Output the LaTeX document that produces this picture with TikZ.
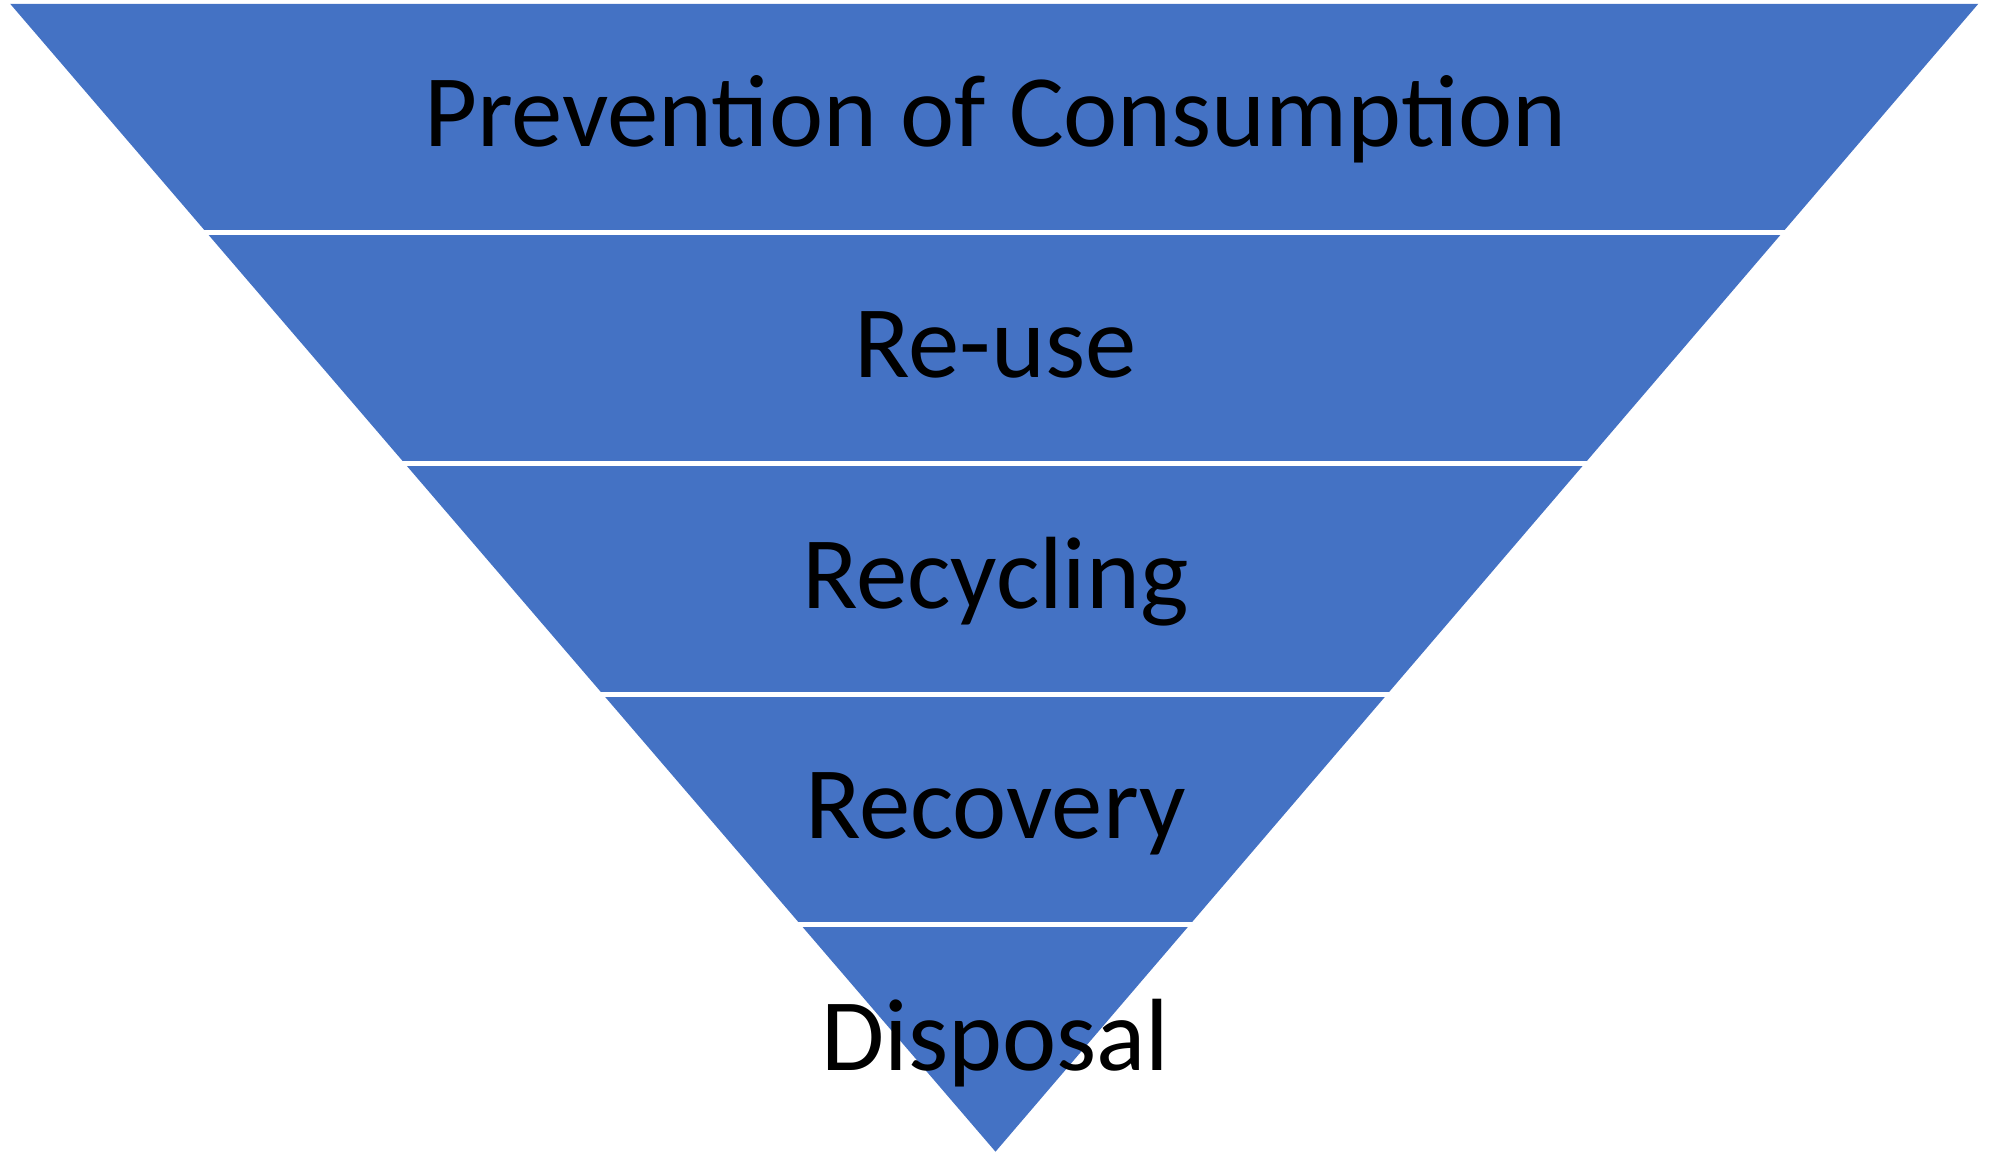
\documentclass[tikz,border=0pt]{standalone}
\usepackage{fontspec}
\setmainfont{Carlito}
\definecolor{bandblue}{HTML}{4472C4}
\tikzstyle{level} = [text=black, font=\fontsize{23}{28}\selectfont, anchor=base]
\tikzstyle{gap} = [draw=white, line width=1.2pt]
\begin{document}
\begin{tikzpicture}[x=0.01cm, y=-0.01cm]
    \useasboundingbox (0,0) rectangle (1568,921);
    % Funnel
    \coordinate (tl) at (8,3);
    \coordinate (tr) at (1558,3);
    \coordinate (apex) at (784,907);
    \fill [bandblue] (tl) -- (tr) -- (apex) -- cycle;
    % Gaps between bands
    \foreach \y in {183,365,547,728}
        \draw [gap] (0,\y) -- (1568,\y);
    % Place labels
    \node [level] (prevent) at (784,115) {Prevention of Consumption};
    \node [level] (reuse) at (784,297) {Re-use};
    \node [level] (recycle) at (784,479) {Recycling};
    \node [level] (recover) at (784,660) {Recovery};
    \node [level] (dispose) at (784,843) {Disposal};
\end{tikzpicture}
\end{document}
